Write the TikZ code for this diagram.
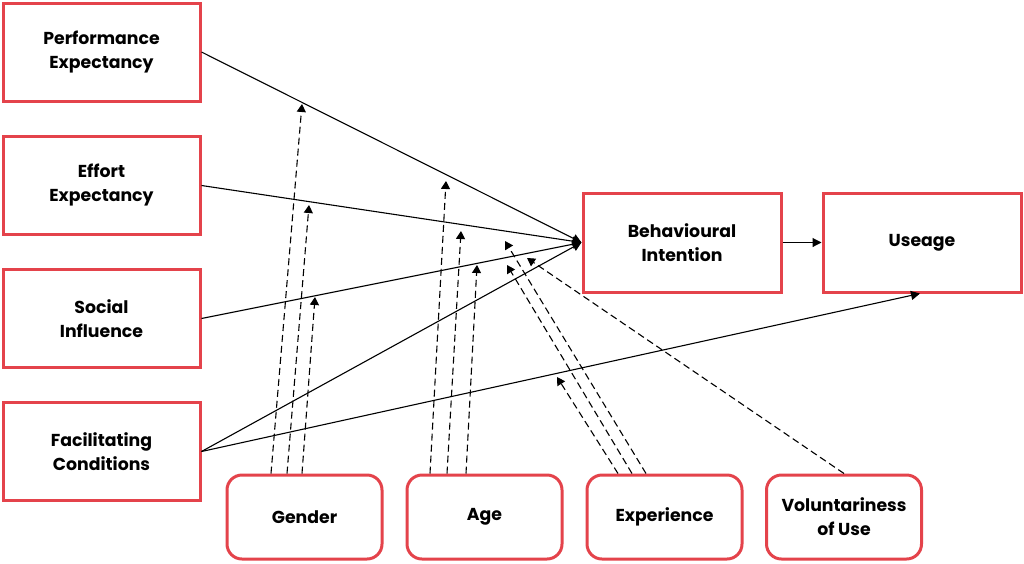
\documentclass[tikz,border=0pt]{standalone}
\usepackage{fontspec}
\setmainfont{Poppins}
\usetikzlibrary{arrows.meta,calc}
\definecolor{boxred}{HTML}{E4434B}
\begin{document}
\begin{tikzpicture}[x=1pt,y=-1pt,
  lbl/.style={font=\fontsize{17.3}{24}\selectfont\bfseries, align=center, text=black},
  sqbox/.style={lbl, draw=boxred, line width=3pt, fill=white, minimum width=197pt, minimum height=98pt, inner sep=0pt},
  rbox/.style={lbl, draw=boxred, line width=3pt, fill=white, rounded corners=15pt, minimum width=155pt, minimum height=84pt, inner sep=0pt},
  solidarr/.style={-{Triangle[length=9pt,width=9pt]}, line width=1.1pt, black},
  dasharr/.style={-{Triangle[length=8pt,width=9pt]}, line width=1.1pt, black, dash pattern=on 7pt off 4pt}
]
\useasboundingbox (0,0) rectangle (1024,563);
\fill[white] (0,0) rectangle (1024,563);

\node[sqbox] (pe) at (101.5,52) {Performance\\Expectancy};
\node[sqbox] (ee) at (101.5,185.5) {Effort\\Expectancy};
\node[sqbox] (si) at (101.5,318.5) {Social\\Influence};
\node[sqbox] (fc) at (101.5,451.5) {Facilitating\\Conditions};
\node[sqbox, minimum width=198pt, minimum height=99pt] (bi) at (682,242.5) {Behavioural\\Intention};
\node[sqbox, minimum width=198pt, minimum height=99pt] (us) at (922,242.5) {Useage};

\node[rbox] (ge) at (304.5,517) {Gender};
\node[rbox] (ag) at (484.5,517) {Age};
\node[rbox] (ex) at (664.5,517) {Experience};
\node[rbox] (vo) at (844,517) {Voluntariness\\of Use};

% solid connectors
\draw[solidarr] (pe.east) -- (bi.west);
\draw[solidarr] (ee.east) -- (bi.west);
\draw[solidarr] (si.east) -- (bi.west);
\draw[solidarr] (fc.east) -- (bi.west);
\draw[solidarr] (fc.east) -- ($(us.south)+(-2,0)$);
\draw[solidarr] (bi.east) -- (us.west);

% moderator targets
\coordinate (g1) at (302,104);
\coordinate (g2) at (309,205);
\coordinate (g3) at (315,297);
\coordinate (a1) at (446,181);
\coordinate (a2) at (461,231);
\coordinate (a3) at (477,265);
\coordinate (e1) at (557,377);
\coordinate (e2) at (507,265);
\coordinate (e3) at (505,241);
\coordinate (v1) at (527,258);

\draw[dasharr] ($(ge.north)+(-33.5,0)$) -- (g1);
\draw[dasharr] ($(ge.north)+(-17.5,0)$) -- (g2);
\draw[dasharr] ($(ge.north)+(-2.5,0)$) -- (g3);
\draw[dasharr] ($(ag.north)+(-54.5,0)$) -- (a1);
\draw[dasharr] ($(ag.north)+(-37.5,0)$) -- (a2);
\draw[dasharr] ($(ag.north)+(-18.5,0)$) -- (a3);
\draw[dasharr] ($(ex.north)+(-46.5,0)$) -- (e1);
\draw[dasharr] ($(ex.north)+(-32.5,0)$) -- (e2);
\draw[dasharr] ($(ex.north)+(-18.5,0)$) -- (e3);
\draw[dasharr] (vo.north) -- (v1);
\end{tikzpicture}
\end{document}
